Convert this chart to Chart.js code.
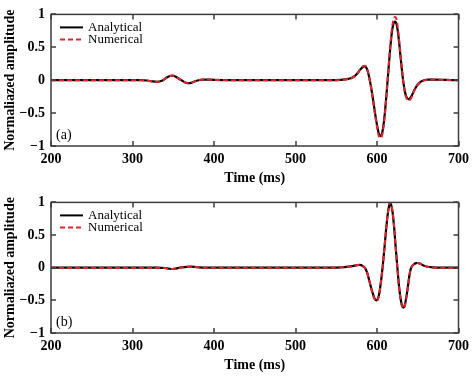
<!DOCTYPE html>
<html lang="en">
<head>
<meta charset="UTF-8" />
<title>Analytical vs numerical</title>
<script src="https://cdn.jsdelivr.net/npm/chart.js"></script>
<style>
  * { margin: 0; padding: 0; box-sizing: border-box; }
  body { background: #fff; width: 474px; height: 377px; overflow: hidden; position: relative; }
  .panel { position: absolute; left: 0; }
  #panelA { top: 0; }
  #panelB { top: 188px; }
</style>
</head>
<body>
<canvas id="panelA" class="panel" width="474" height="188"></canvas>
<canvas id="panelB" class="panel" width="474" height="189"></canvas>
<script>
const xTicks = [200, 300, 400, 500, 600, 700];
const yTicks = [-1, -0.5, 0, 0.5, 1];
const seriesNames = ['Analytical', 'Numerical'];

// panel (a)
const timeA = [200, 310, 318, 324, 330, 336, 342, 346, 349, 352, 356, 360, 364, 368, 372, 376, 381, 386, 392, 400, 420,
  540, 555, 565, 570, 575, 580, 583, 585, 587, 589, 591, 594, 597, 600, 602, 604, 606, 608, 610, 612,
  614, 616, 618, 620, 622, 624, 626, 628, 630, 632, 634, 636, 639, 642, 645, 648, 652, 656, 662, 670, 685, 700];
const analyticalA = [0, 0, -0.005, -0.018, -0.025, -0.01, 0.04, 0.065, 0.07, 0.06, 0.03, 0, -0.03, -0.045, -0.04, -0.02, 0, 0.01, 0.01, 0.005, 0,
  0, 0.005, 0.02, 0.04, 0.09, 0.17, 0.205, 0.21, 0.19, 0.12, 0.01, -0.2, -0.45, -0.68, -0.8, -0.85, -0.82, -0.68, -0.45, -0.16,
  0.15, 0.45, 0.7, 0.85, 0.89, 0.85, 0.7, 0.47, 0.22, 0, -0.16, -0.25, -0.29, -0.25, -0.17, -0.1, -0.04, -0.01, 0.008, 0.01, 0.005, 0];
const numericalA = [0, 0, -0.005, -0.018, -0.025, -0.01, 0.04, 0.065, 0.07, 0.06, 0.03, 0, -0.03, -0.045, -0.04, -0.02, 0, 0.01, 0.01, 0.005, 0,
  0, 0.005, 0.02, 0.04, 0.09, 0.175, 0.215, 0.22, 0.2, 0.125, 0.01, -0.21, -0.47, -0.71, -0.84, -0.88, -0.85, -0.71, -0.47, -0.17,
  0.16, 0.48, 0.75, 0.91, 0.96, 0.92, 0.75, 0.5, 0.23, 0, -0.17, -0.27, -0.31, -0.27, -0.18, -0.1, -0.04, -0.01, 0.008, 0.01, 0.005, 0];

// panel (b)
const timeB = [200, 330, 340, 345, 349, 353, 358, 364, 370, 378, 388, 540, 560, 570, 576, 579, 582, 585, 588, 591,
  594, 597, 599, 601, 603, 605, 607, 609, 611, 613, 615, 616, 617, 619, 621, 623, 625, 627, 629, 631,
  632.5, 634, 636, 638, 640, 642, 645, 648, 650, 653, 657, 662, 668, 680, 700];
const analyticalB = [0, 0, -0.005, -0.015, -0.02, -0.015, 0, 0.01, 0.015, 0.01, 0, 0, 0.01, 0.025, 0.04, 0.042, 0.03, 0, -0.08, -0.22,
  -0.36, -0.47, -0.5, -0.48, -0.38, -0.2, 0.02, 0.28, 0.56, 0.8, 0.96, 1.0, 0.98, 0.86, 0.62, 0.3, 0, -0.28, -0.48, -0.59,
  -0.61, -0.58, -0.45, -0.28, -0.1, 0, 0.05, 0.07, 0.072, 0.06, 0.035, 0.015, 0.005, 0, 0];
const numericalB = [0, 0, -0.005, -0.015, -0.02, -0.015, 0, 0.01, 0.015, 0.01, 0, 0, 0.01, 0.025, 0.04, 0.042, 0.03, 0, -0.08, -0.22,
  -0.37, -0.48, -0.51, -0.49, -0.39, -0.2, 0.02, 0.29, 0.57, 0.81, 0.97, 1.0, 0.99, 0.87, 0.63, 0.3, 0, -0.29, -0.49, -0.6,
  -0.62, -0.59, -0.46, -0.29, -0.1, 0, 0.05, 0.07, 0.072, 0.06, 0.035, 0.015, 0.005, 0, 0];

const RED = '#e4242b';
const FRAME = '#3c3c3c';
const boldSerif = { family: 'Liberation Serif', size: 14, weight: 'bold' };

// box, inward ticks, legend and panel tag
const framePlugin = {
  id: 'frame',
  afterDraw(chart, args, opts) {
    const { ctx, chartArea: a } = chart;
    const x = chart.scales.x, y = chart.scales.y;
    ctx.save();
    ctx.strokeStyle = FRAME;
    ctx.lineWidth = 1.5;
    ctx.strokeRect(a.left, a.top, a.right - a.left, a.bottom - a.top);
    ctx.beginPath();
    xTicks.forEach(v => {
      const px = Math.round(x.getPixelForValue(v));
      ctx.moveTo(px, a.bottom); ctx.lineTo(px, a.bottom - 5);
      ctx.moveTo(px, a.top); ctx.lineTo(px, a.top + 5);
    });
    yTicks.forEach(v => {
      const py = Math.round(y.getPixelForValue(v));
      ctx.moveTo(a.left, py); ctx.lineTo(a.left + 5, py);
      ctx.moveTo(a.right, py); ctx.lineTo(a.right - 5, py);
    });
    ctx.stroke();

    // legend
    const lx = a.left + 9, tx = a.left + 37;
    const rows = [a.top + 13, a.top + 25];
    ctx.lineWidth = 2;
    ctx.strokeStyle = '#000';
    ctx.beginPath(); ctx.moveTo(lx, rows[0]); ctx.lineTo(lx + 23, rows[0]); ctx.stroke();
    ctx.strokeStyle = RED;
    ctx.setLineDash([5, 3]);
    ctx.beginPath(); ctx.moveTo(lx, rows[1]); ctx.lineTo(lx + 24, rows[1]); ctx.stroke();
    ctx.setLineDash([]);
    ctx.fillStyle = '#000';
    ctx.font = '13px "Liberation Serif"';
    ctx.textBaseline = 'middle';
    ctx.textAlign = 'left';
    seriesNames.forEach((n, i) => ctx.fillText(n, tx, rows[i]));

    ctx.font = '14px "Liberation Serif"';
    ctx.fillText(opts.tag, a.left + 5, a.bottom - 11);
    ctx.restore();
  }
};

function makePanel(id, times, analytical, numerical, tag, pad) {
  new Chart(document.getElementById(id), {
    type: 'line',
    data: {
      datasets: [
        {
          label: seriesNames[0],
          data: times.map((t, i) => ({ x: t, y: analytical[i] })),
          borderColor: '#000',
          borderWidth: 2.2,
          order: 1
        },
        {
          label: seriesNames[1],
          data: times.map((t, i) => ({ x: t, y: numerical[i] })),
          borderColor: RED,
          borderWidth: 2,
          borderDash: [5, 3],
          order: 0
        }
      ]
    },
    options: {
      responsive: false,
      animation: false,
      events: [],
      layout: { padding: pad },
      elements: {
        point: { radius: 0 },
        line: { cubicInterpolationMode: 'monotone', fill: false }
      },
      plugins: {
        legend: { display: false },
        tooltip: { enabled: false },
        frame: { tag: tag }
      },
      scales: {
        x: {
          type: 'linear',
          min: 200,
          max: 700,
          grid: { display: false, drawTicks: false },
          border: { display: false },
          afterBuildTicks: s => { s.ticks = xTicks.map(v => ({ value: v })); },
          afterFit: s => { s.height = 41; },
          ticks: { font: boldSerif, color: '#000', padding: 5, maxRotation: 0 },
          title: { display: true, text: 'Time (ms)', font: boldSerif, color: '#000', padding: { top: 0, bottom: 0 } }
        },
        y: {
          min: -1,
          max: 1,
          grid: { display: false, drawTicks: false },
          border: { display: false },
          afterBuildTicks: s => { s.ticks = yTicks.map(v => ({ value: v })); },
          afterFit: s => { s.width = 51; },
          ticks: {
            font: boldSerif,
            color: '#000',
            padding: 6,
            callback: v => String(v).replace('-', '\u2212')
          },
          title: { display: true, text: 'Normaliazed amplitude', font: boldSerif, color: '#000', padding: { top: 2, bottom: 0 } }
        }
      }
    },
    plugins: [framePlugin]
  });
}

makePanel('panelA', timeA, analyticalA, numericalA, '(a)', { top: 11, right: 13, bottom: 1, left: 0 });
makePanel('panelB', timeB, analyticalB, numericalB, '(b)', { top: 10, right: 13, bottom: 3, left: 0 });
</script>
</body>
</html>
